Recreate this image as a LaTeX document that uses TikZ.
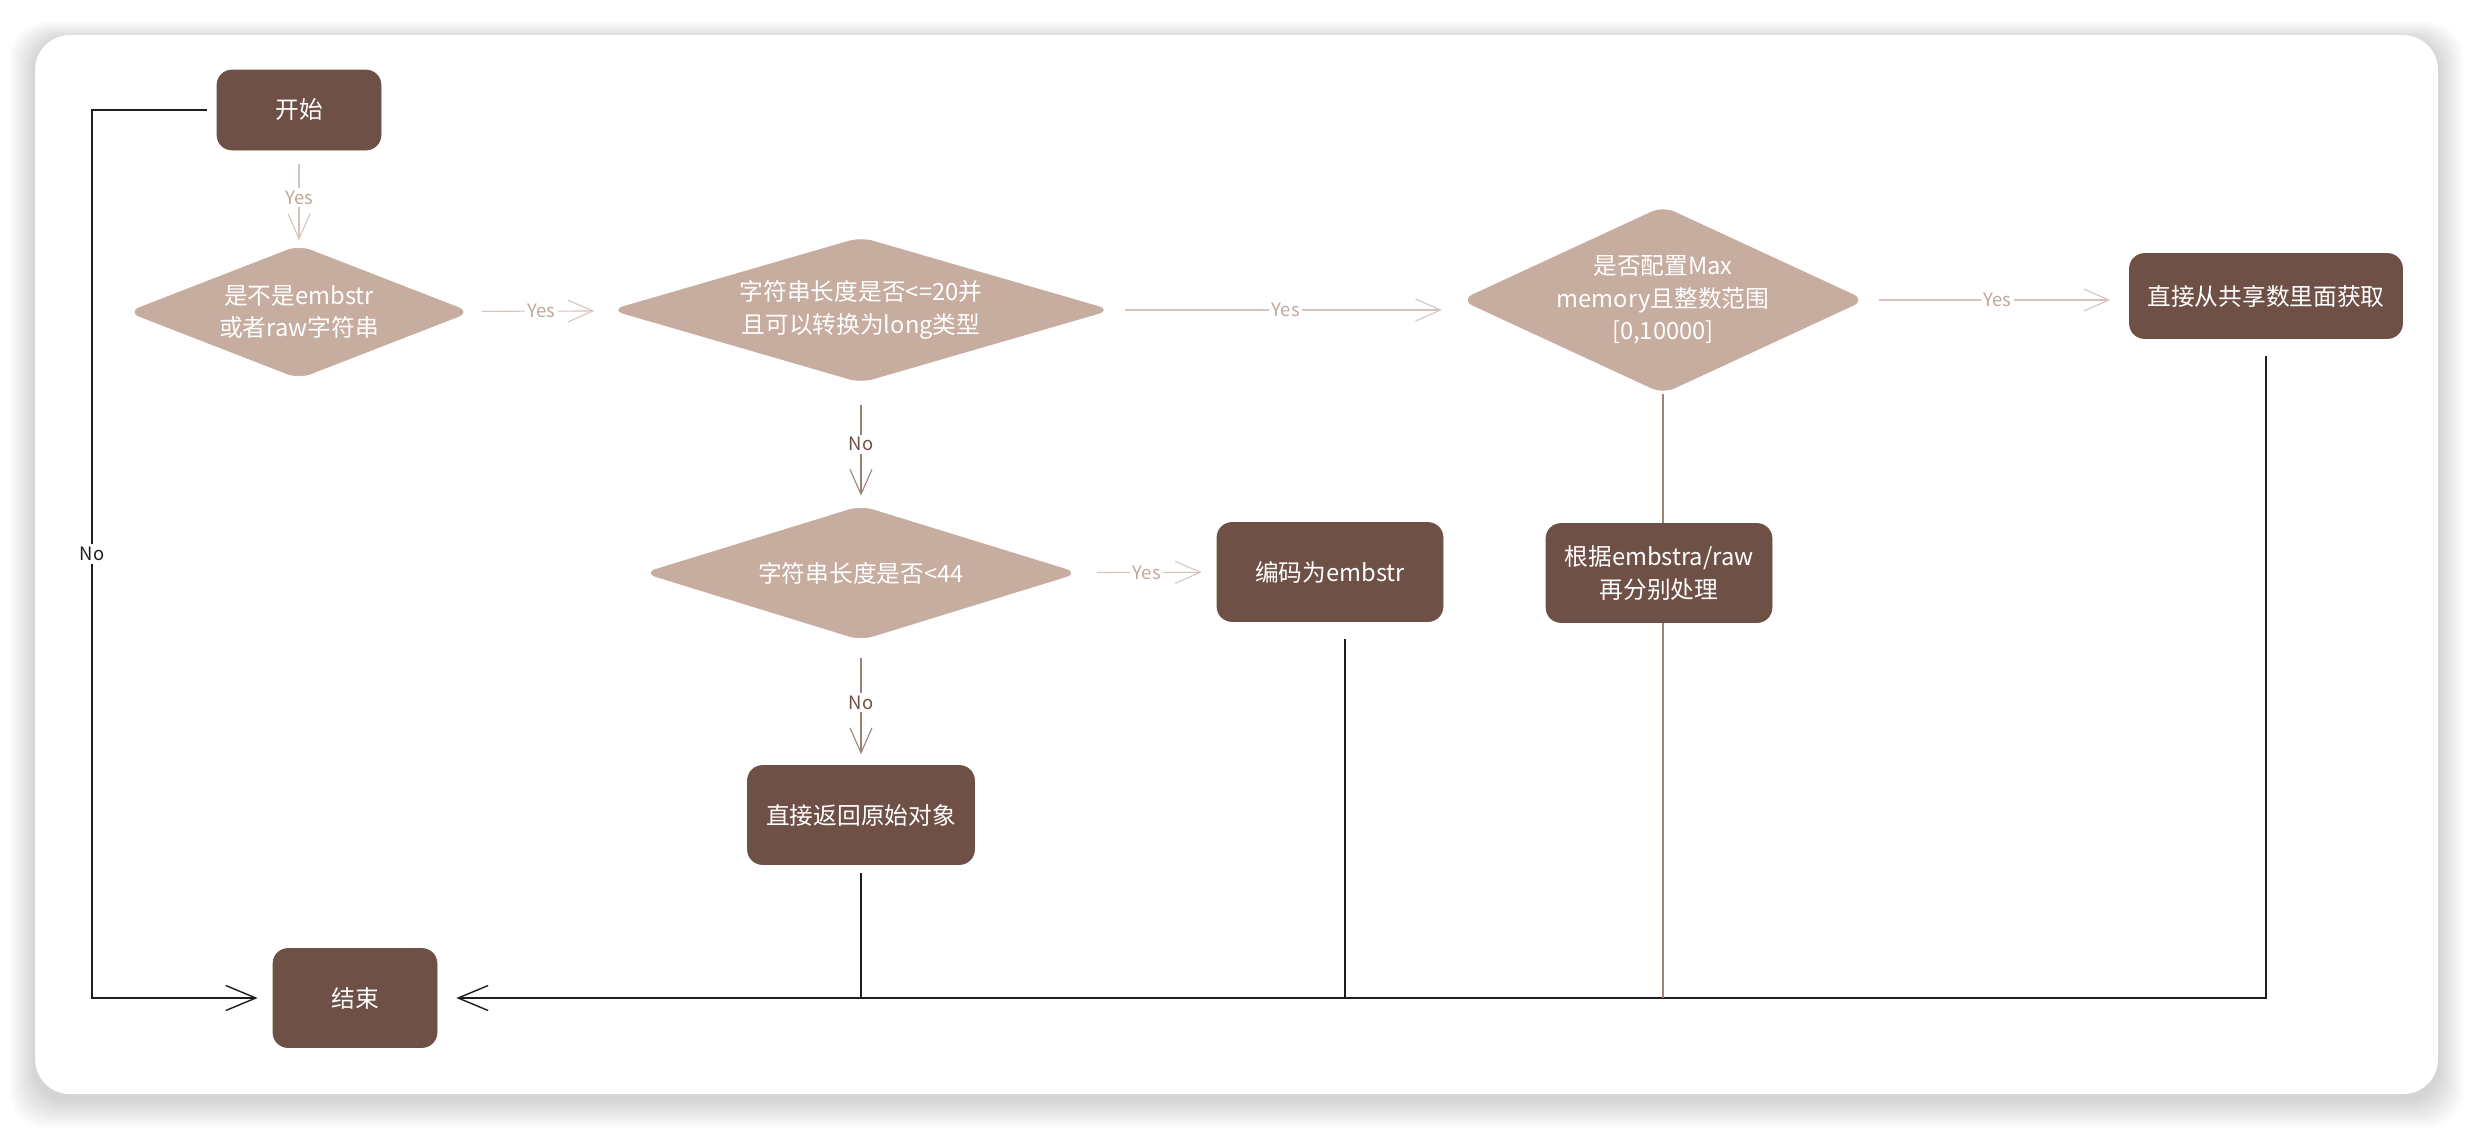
\documentclass[tikz,border=0pt]{standalone}
\usepackage{fontspec}
\setmainfont{Noto Sans CJK SC}
\usetikzlibrary{shapes.geometric, arrows.meta, positioning}

\definecolor{boxColour}{HTML}{6F5046}
\definecolor{decisionColour}{HTML}{C7ACA0}
\definecolor{yesColour}{HTML}{D6C3BC}
\definecolor{yesText}{HTML}{C2A69B}
\definecolor{noColour}{HTML}{9A8079}
\definecolor{endColour}{HTML}{1E1E1E}
\definecolor{dropColour}{HTML}{A08278}

\tikzset{
    stepbox/.style={draw=boxColour, fill=boxColour, text=white, rounded corners=3mm,
        align=center, inner sep=0pt, font=\fontsize{13.5}{18.5}\selectfont},
    decision/.style={diamond, draw=decisionColour, fill=decisionColour, text=white,
        rounded corners=2.5mm, align=center, inner sep=0pt, font=\fontsize{13.5}{18.5}\selectfont},
    yesFlow/.style={draw=yesColour, line width=0.6pt, -{Straight Barb[length=5mm,width=4.4mm]}},
    noFlow/.style={draw=noColour, line width=0.6pt, -{Straight Barb[length=5mm,width=4.4mm]}},
    returnFlow/.style={draw=endColour, line width=0.8pt, -{Straight Barb[length=6mm,width=5mm]}},
    returnLine/.style={draw=endColour, line width=0.6pt},
    dropLine/.style={draw=dropColour, line width=0.6pt},
    yesLabel/.style={fill=white, text=yesText, inner sep=1.5pt, font=\fontsize{10.5}{12}\selectfont},
    noLabel/.style={fill=white, text=boxColour, inner sep=1.5pt, font=\fontsize{10.5}{12}\selectfont}
}

\begin{document}
\begin{tikzpicture}[x=0.2mm, y=-0.2mm]
    \useasboundingbox (0,0) rectangle (2474,1130);
    \fill[white] (0,0) rectangle (2474,1130);

    % Card with a soft shadow
    \foreach \s in {1,...,14}
        \fill[black, opacity=0.01, rounded corners=7mm] (35-1.8*\s,35-1.2*\s+4) rectangle (2438+1.8*\s,1094+2*\s+6);
    \fill[white, rounded corners=7mm] (35,35) rectangle (2438,1094);

    % Steps and decisions
    \node[stepbox, minimum width=32.8mm, minimum height=16mm] (start) at (299,110) {开始};
    \node[decision, aspect=2.57, minimum width=68.4mm, minimum height=26.6mm] (isStr) at (299,312) {是不是embstr\\或者raw字符串};
    \node[decision, aspect=3.44, minimum width=99.8mm, minimum height=29mm] (isLong) at (861,310) {字符串长度是否<=20并\\且可以转换为long类型};
    \node[decision, aspect=2.16, minimum width=80.4mm, minimum height=37.2mm] (hasMax) at (1663,300) {是否配置Max\\memory且整数范围\\{[0,10000]}};
    \node[stepbox, minimum width=54.6mm, minimum height=17mm] (shared) at (2266,296) {直接从共享数里面获取};
    \node[decision, aspect=3.24, minimum width=86.8mm, minimum height=26.8mm] (isShort) at (861,573) {字符串长度是否<44};
    \node[stepbox, minimum width=45.2mm, minimum height=19.8mm] (embstr) at (1330,572) {编码为embstr};
    \node[stepbox, minimum width=45.2mm, minimum height=19.8mm] (split) at (1659,573) {根据embstra/raw\\再分别处理};
    \node[stepbox, minimum width=45.4mm, minimum height=19.8mm] (rawObj) at (861,815) {直接返回原始对象};
    \node[stepbox, minimum width=32.8mm, minimum height=19.8mm] (finish) at (355,998) {结束};

    % Yes / No branches
    \draw[yesFlow, shorten <=2.8mm, shorten >=1mm] (start) -- node[yesLabel] {Yes} (isStr);
    \draw[yesFlow, shorten <=2.6mm, shorten >=4mm] (isStr) -- node[yesLabel] {Yes} (isLong);
    \draw[yesFlow, shorten <=2.8mm, shorten >=3.8mm] (isLong.east) -- node[yesLabel] {Yes} (isLong.east -| hasMax.west);
    \draw[yesFlow, shorten <=2.8mm, shorten >=3.8mm] (hasMax.east) -- node[yesLabel] {Yes} (hasMax.east -| shared.west);
    \draw[noFlow, shorten <=4.4mm, shorten >=2mm] (isLong) -- node[noLabel] {No} (isShort);
    \draw[yesFlow, shorten <=4mm, shorten >=3mm] (isShort) -- node[yesLabel] {Yes} (embstr);
    \draw[noFlow, shorten <=3.5mm, shorten >=2.2mm] (isShort) -- node[noLabel] {No} (rawObj);

    % Back to the end
    \coordinate (leftRail) at (92,0);
    \draw[returnFlow, shorten <=1.9mm, shorten >=3mm] (start.west) -- (start.west -| leftRail)
        -- node[noLabel, text=endColour] {No} (leftRail |- finish.west) -- (finish.west);
    \draw[returnFlow, shorten <=3.5mm, shorten >=3.8mm] (shared.south) -- (shared.south |- finish.east) -- (finish.east);
    \draw[returnLine, shorten <=1.6mm] (rawObj.south) -- (rawObj.south |- finish.east);
    \draw[returnLine, shorten <=3.5mm] ([xshift=3mm]embstr.south) -- ([xshift=3mm]embstr.south |- finish.east);
    \draw[dropLine] (hasMax.south) -- (hasMax.south |- split.north);
    \draw[dropLine] (hasMax.south |- split.south) -- (hasMax.south |- finish.east);

\end{tikzpicture}
\end{document}
